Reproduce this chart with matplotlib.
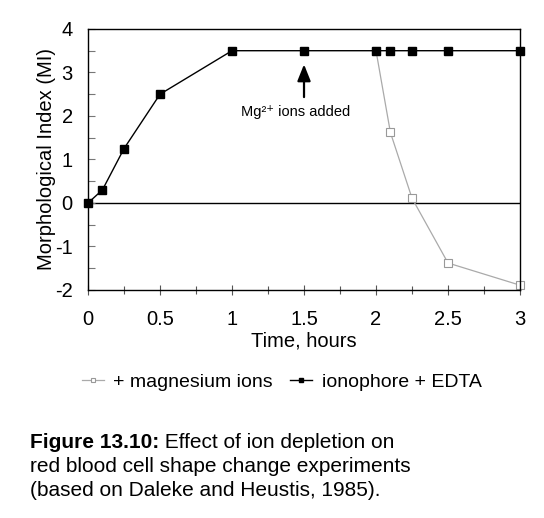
import matplotlib
matplotlib.use("Agg")
import matplotlib.pyplot as plt
from matplotlib.ticker import MultipleLocator

plt.rcParams['font.family'] = ['Liberation Sans', 'DejaVu Sans']
plt.rcParams['axes.unicode_minus'] = False

# Data
edta_t = [0, 0.1, 0.25, 0.5, 1.0, 1.5, 2.0, 2.1, 2.25, 2.5, 3.0]
edta_mi = [0, 0.3, 1.25, 2.5, 3.5, 3.5, 3.5, 3.5, 3.5, 3.5, 3.5]
mg_t = [2.0, 2.1, 2.25, 2.5, 3.0]
mg_mi = [3.5, 1.62, 0.11, -1.38, -1.89]

xticks = [0, 0.5, 1, 1.5, 2, 2.5, 3]
xticklabels = ["0", "0.5", "1", "1.5", "2", "2.5", "3"]
yticks = [-2, -1, 0, 1, 2, 3, 4]

fig = plt.figure(figsize=(5.44, 5.18), dpi=100)
ax = fig.add_axes([0.1618, 0.4402, 0.7941, 0.5039])

ax.axhline(0, color='black', lw=1.0, zorder=1)
l1, = ax.plot(mg_t, mg_mi, color='#aaaaaa', lw=0.9, marker='s', ms=5.5,
              mfc='white', mec='#999999', mew=0.8, label='+ magnesium ions', zorder=2,
              clip_on=False)
l2, = ax.plot(edta_t, edta_mi, color='black', lw=1.0, marker='s', ms=5.5,
              mfc='black', mec='black', label='ionophore + EDTA', zorder=3, clip_on=False)

ax.set_xlim(0, 3)
ax.set_ylim(-2, 4)
ax.set_xticks(xticks)
ax.set_xticklabels(xticklabels)
ax.set_yticks(yticks)
ax.xaxis.set_minor_locator(MultipleLocator(0.25))
ax.yaxis.set_minor_locator(MultipleLocator(0.5))
ax.tick_params(axis='x', which='major', direction='inout', length=7, width=0.8,
               color='#555555', labelsize=14.5, pad=11)
ax.tick_params(axis='x', which='minor', direction='inout', length=6, width=0.8, color='#555555')
ax.tick_params(axis='y', which='both', direction='in', length=5, width=0.8,
               color='#777777', labelsize=14.5, pad=11)
for s in ax.spines.values():
    s.set_linewidth(1.0)

ax.set_xlabel('Time, hours', fontsize=14.5, labelpad=2)
ax.set_ylabel('Morphological Index (MI)', fontsize=14.5, labelpad=-1)

ax.annotate('', xy=(1.5, 3.25), xytext=(1.5, 2.37),
            arrowprops=dict(arrowstyle='-|>,head_length=1.0,head_width=0.4', color='black', lw=1.6))
ax.text(1.44, 2.09, 'Mg²⁺ ions added', ha='center', va='center', fontsize=10.5)

fig.legend(handles=[l1, l2], loc='center', bbox_to_anchor=(0.518, 0.2625), ncol=2,
           frameon=False, fontsize=14, handlelength=1.1, handletextpad=0.5,
           columnspacing=0.9, markerscale=0.6)

t1 = fig.text(0.055, 1 - 443/518, 'Figure 13.10:', fontsize=15, fontweight='bold',
              ha='left', va='center')
ax.annotate(' Effect of ion depletion on', xy=(1, 0.5), xycoords=t1, fontsize=15,
            ha='left', va='center', annotation_clip=False)
fig.text(0.055, 1 - 467/518, 'red blood cell shape change experiments', fontsize=15,
         ha='left', va='center')
fig.text(0.055, 1 - 491/518, '(based on Daleke and Heustis, 1985).', fontsize=15,
         ha='left', va='center')

fig.savefig('out.png', dpi=100)
